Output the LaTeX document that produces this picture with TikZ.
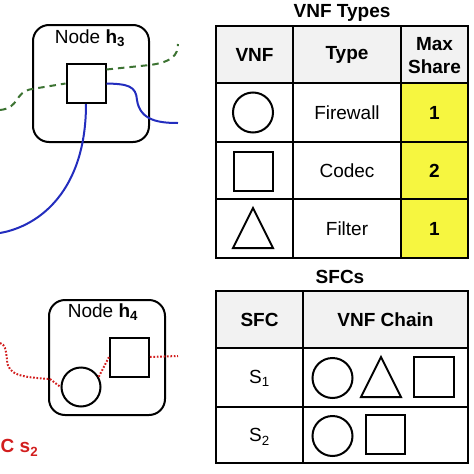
\documentclass[tikz,border=0pt]{standalone}
\usepackage{fontspec}
\setmainfont{Liberation Sans}
\usetikzlibrary{calc}
\definecolor{vyellow}{RGB}{246,246,64}
\definecolor{hgray}{RGB}{242,242,242}
\definecolor{sred}{RGB}{210,30,30}
\definecolor{dgreen}{RGB}{60,115,50}
\definecolor{dblue}{RGB}{35,45,190}
\begin{document}
\begin{tikzpicture}[x=1pt,y=-1pt,
  txt/.style={font=\fontsize{19}{23}\selectfont, inner sep=0pt, align=center},
  btxt/.style={font=\fontsize{19}{23}\selectfont\bfseries, inner sep=0pt, align=center},
  hostbox/.style={draw, line width=2pt, rounded corners=16pt},
  vsq/.style={draw, line width=2pt, rectangle, minimum size=39pt, inner sep=0pt},
  vci/.style={draw, line width=2pt, circle, minimum size=40pt, inner sep=0pt},
  vtri/.style={draw, line width=2pt, line join=miter},
  gridline/.style={line width=2pt},
  greenlink/.style={draw=dgreen, line width=2pt, dash pattern=on 6.5pt off 5pt},
  bluelink/.style={draw=dblue, line width=2pt},
  redlink/.style={draw=sred, line width=2pt, dash pattern=on 1.7pt off 1.7pt}
]
\useasboundingbox (0,0) rectangle (474,474);

% ---------- Host h3 ----------
\draw[hostbox] (33,25) rectangle (149,142);
\node[txt] (h3lab) at (90,38) {Node \textbf{h\textsubscript{3}}};
\node[vsq, fill=white] (sq3) at (86,83.5) {};
\coordinate (g1) at (0,110);
\coordinate (g2) at (178,44);
\coordinate (b1) at (0,233);
\coordinate (b2) at (178,123);
\draw[greenlink] (g1) .. controls (20,108) and (14,92) .. (32,89) -- (sq3.west);
\draw[greenlink] ([yshift=14pt]sq3.east) -- (150,65) .. controls (172,62) and (178,55) .. (g2);
\draw[bluelink] (sq3.south) .. controls (86,190) and (40,226) .. (b1);
\draw[bluelink] (sq3.east) .. controls (128,84) and (136,86) .. (137,100) .. controls (140,121) and (160,123) .. (b2);

% ---------- Host h4 ----------
\draw[hostbox] (49,300) rectangle (165,415);
\node[txt] (h4lab) at (103,312) {Node \textbf{h\textsubscript{4}}};
\node[vsq] (sq4) at (129.5,357) {};
\node[vci, minimum size=39pt] (ci4) at (81,387) {};
\coordinate (r1) at (0,343);
\coordinate (r2) at (178,356);
\draw[redlink] (r1) .. controls (5,344) and (6,350) .. (7,360) .. controls (8,375) and (20,377) .. (50,379) -- (ci4.west);
\draw[redlink] (ci4.30) -- (sq4.west);
\draw[redlink] (sq4.east) -- (r2);
\node[btxt, text=sred, anchor=west] (s2lab) at (0.5,448) {C s\textsubscript{2}};

% ---------- VNF Types table ----------
\node[btxt] (t1title) at (342,13) {VNF Types};
\fill[hgray] (216,26) rectangle (468,83);
\fill[vyellow] (401,83) rectangle (468,258);
\draw[gridline] (216,26) rectangle (468,258);
\draw[gridline] (293,26) -- (293,258) (401,26) -- (401,258);
\draw[gridline] (216,83) -- (468,83) (216,142) -- (468,142) (216,199) -- (468,199);
\node[btxt] (hvnf) at (254.5,55) {VNF};
\node[btxt] (htype) at (347,55) {Type};
\node[btxt] (hmax) at (434.5,56) {Max\\Share};
\node[vci] (c1) at (253,112.5) {};
\node[vsq] (q1) at (253,171) {};
\draw[vtri] (253,208) -- (273,248) -- (233,248) -- cycle;
\node[txt] (fw) at (347,113) {Firewall};
\node[txt] (cd) at (347,171) {Codec};
\node[txt] (fl) at (347,229) {Filter};
\node[btxt] (m1) at (434.5,113) {1};
\node[btxt] (m2) at (434.5,171) {2};
\node[btxt] (m3) at (434.5,229) {1};

% ---------- SFCs table ----------
\node[btxt] (t2title) at (340,277) {SFCs};
\fill[hgray] (216,291) rectangle (468,348);
\draw[gridline] (216,291) rectangle (468,463);
\draw[gridline] (303,291) -- (303,463);
\draw[gridline] (216,348) -- (468,348) (216,407) -- (468,407);
\node[btxt] (hsfc) at (259.5,320) {SFC};
\node[btxt] (hchain) at (385.5,320) {VNF Chain};
\node[txt] (s1) at (259.5,378) {S\textsubscript{1}};
\node[txt] (s2) at (259.5,437) {S\textsubscript{2}};
\node[vci] (c21) at (332.5,378) {};
\draw[vtri] (381,357) -- (401,397) -- (361,397) -- cycle;
\node[vsq, minimum size=40pt] (q21) at (434,377) {};
\node[vci] (c22) at (332.5,436) {};
\node[vsq] (q22) at (385.5,434.5) {};
\end{tikzpicture}
\end{document}
